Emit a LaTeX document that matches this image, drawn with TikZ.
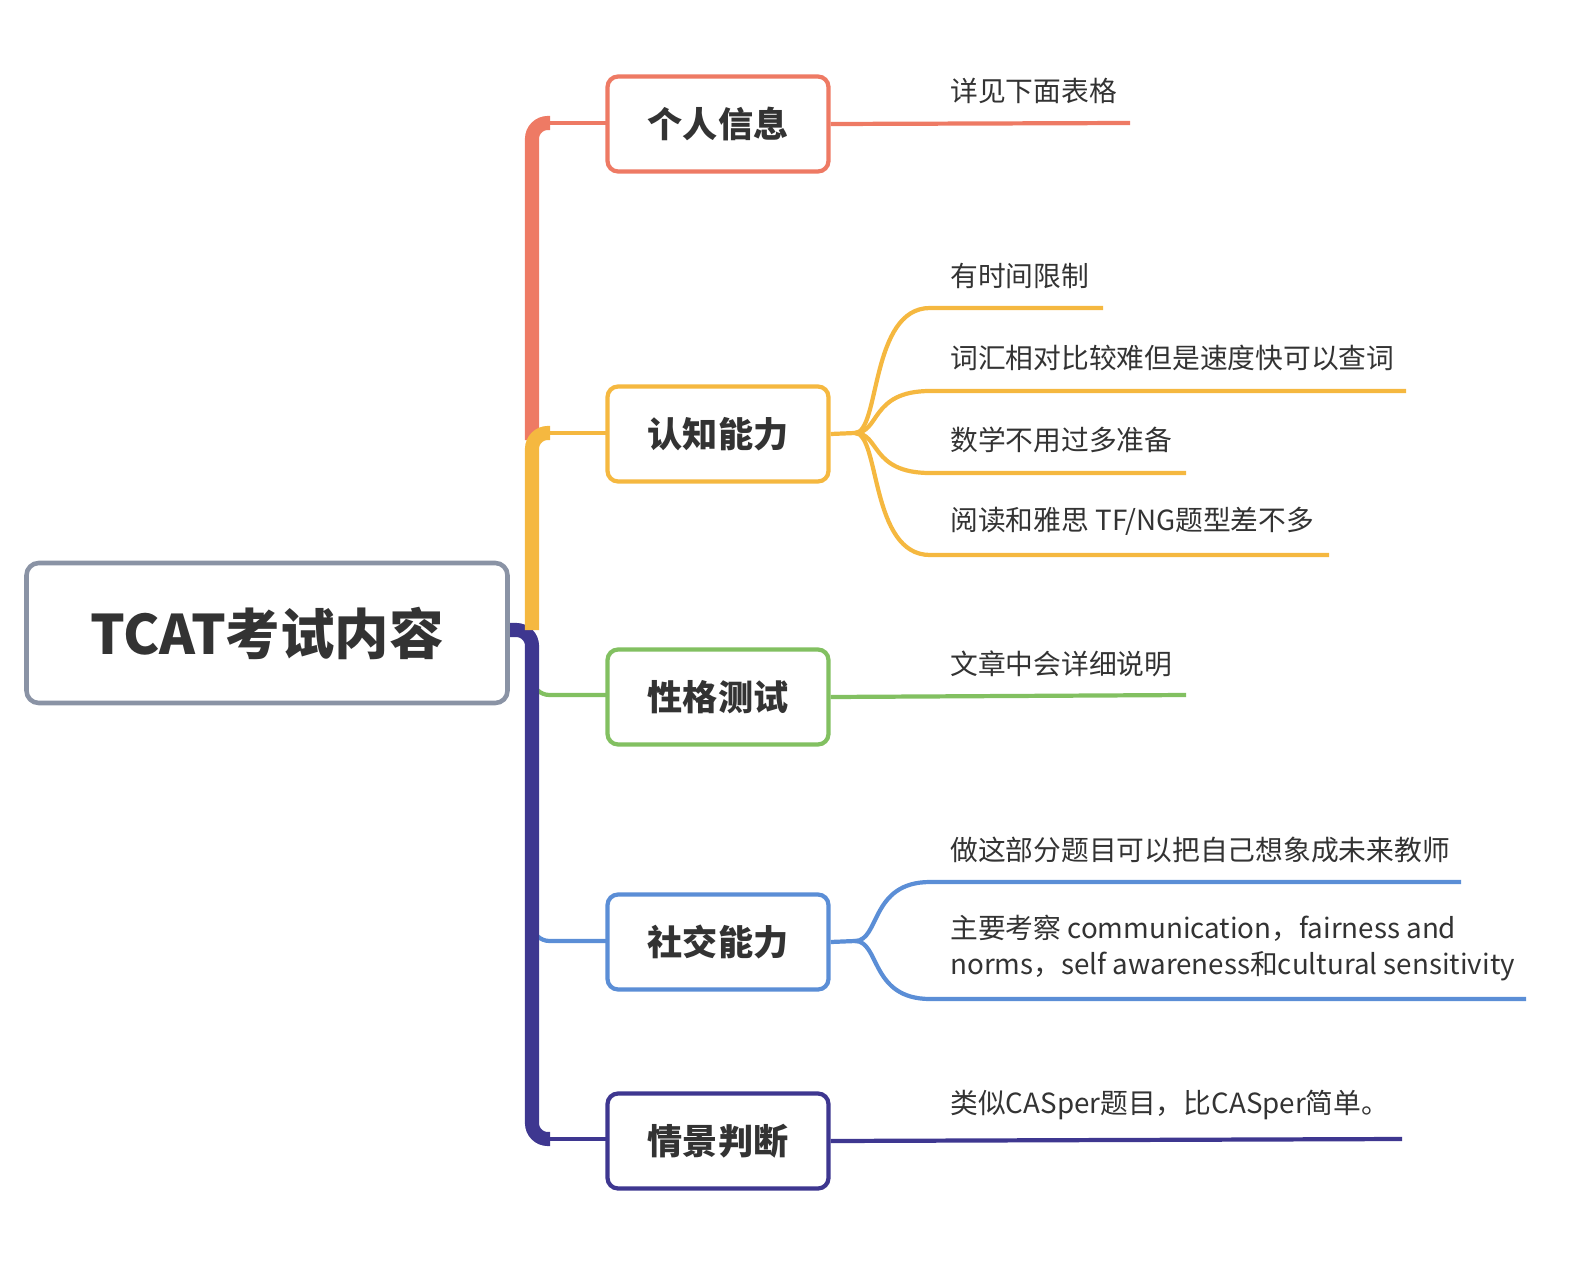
\documentclass[tikz,border=0pt]{standalone}
\usepackage{fontspec}
\setmainfont{Noto Sans CJK SC}
\definecolor{cR}{HTML}{EE7A64}
\definecolor{cY}{HTML}{F5B840}
\definecolor{cG}{HTML}{82C061}
\definecolor{cB}{HTML}{5B8ED6}
\definecolor{cN}{HTML}{3E3790}
\definecolor{cGr}{HTML}{8A93A5}
\definecolor{tx}{HTML}{333333}
\begin{document}
\begin{tikzpicture}[x=0.02cm,y=-0.02cm,
  kid/.style={draw=#1,line width=2.4pt,rounded corners=6pt,minimum width=221*0.02cm,minimum height=95*0.02cm,font=\fontsize{20}{23}\selectfont\bfseries,text=tx,fill=white},
  leaf/.style={anchor=south west,font=\fontsize{15.8}{20.5}\selectfont,text=tx,inner sep=0pt,align=left},
  br/.style={draw=#1,line width=2.4pt},
  tr/.style={draw=#1,line width=8pt}]
\useasboundingbox (0,0) rectangle (1596,1274);
% trunk branches
\draw[br=cG,rounded corners=10pt] (532,670) -- (532,695) -- (608,695);
\draw[br=cB,rounded corners=10pt] (532,915) -- (532,941) -- (608,941);
\draw[br=cR] (540,123) -- (608,123);
\draw[br=cY] (540,433) -- (608,433);
\draw[br=cN] (540,1139) -- (608,1139);
\draw[tr=cR,rounded corners=9pt] (532,440) -- (532,123) -- (550,123);
\draw[tr=cN,rounded corners=9pt] (508,630) -- (532,630) -- (532,1139) -- (550,1139);
\draw[tr=cY,rounded corners=9pt] (532,630) -- (532,433) -- (550,433);
% root
\node[draw=cGr,line width=2.6pt,rounded corners=7pt,minimum width=481*0.02cm,minimum height=140*0.02cm,font=\fontsize{31}{36}\selectfont\bfseries,text=tx,fill=white] (root) at (267,633) {TCAT考试内容};
\node[kid=cR] (k1) at (718,124) {个人信息};
\node[kid=cY] (k2) at (718,434) {认知能力};
\node[kid=cG] (k3) at (718,697) {性格测试};
\node[kid=cB] (k4) at (718,942) {社交能力};
\node[kid=cN] (k5) at (718,1141) {情景判断};
% leaves
\coordinate (f2) at (855,433);
\coordinate (f4) at (855,941);
\draw[br=cR] (k1.east) -- (1130,123);
\draw[br=cY] (k2.east) -- (f2);
\foreach \y/\e in {308/1103,391/1406,473/1186,555/1329}
  \draw[br=cY] (f2) .. controls (880,433) and (870,\y) .. (930,\y) -- (\e,\y);
\draw[br=cG] (k3.east) -- (1186,695);
\draw[br=cB] (k4.east) -- (f4);
\draw[br=cB] (f4) .. controls (880,941) and (870,882) .. (930,882) -- (1461,882);
\draw[br=cB] (f4) .. controls (880,941) and (870,999) .. (930,999) -- (1526,999);
\draw[br=cN] (k5.east) -- (1402,1139);
\node[leaf] (t1) at (950,104) {详见下面表格};
\node[leaf] (t2) at (950,289) {有时间限制};
\node[leaf] (t3) at (950,371) {词汇相对比较难但是速度快可以查词};
\node[leaf] (t4) at (950,453) {数学不用过多准备};
\node[leaf] (t5) at (950,536) {阅读和雅思 TF/NG题型差不多};
\node[leaf] (t6) at (950,677) {文章中会详细说明};
\node[leaf] (t7) at (950,863) {做这部分题目可以把自己想象成未来教师};
\node[leaf] (t8) at (950,981) {主要考察 communication，fairness and\\norms，self awareness和cultural sensitivity};
\node[leaf] (t9) at (950,1120) {类似CASper题目，比CASper简单。};
\end{tikzpicture}
\end{document}
